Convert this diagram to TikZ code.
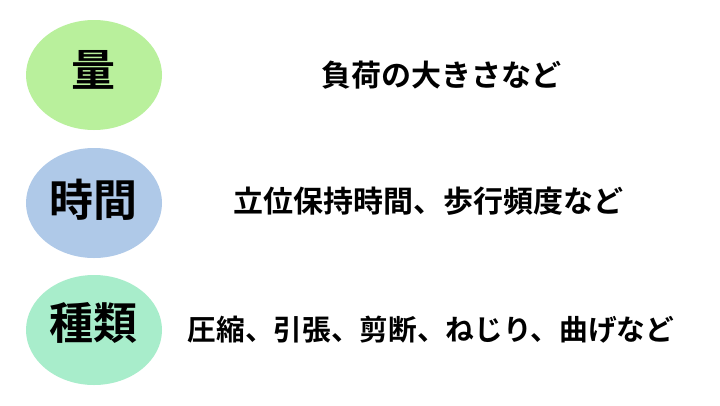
\documentclass[tikz,border=0pt]{standalone}
\usepackage{fontspec}
\newfontfamily\cjk{Noto Sans CJK JP}[BoldFont={* Bold}]
\definecolor{cgreen}{HTML}{B9F09C}
\definecolor{cblue}{HTML}{AFC9E8}
\definecolor{cmint}{HTML}{A8EDCB}
\begin{document}
\begin{tikzpicture}[x=1pt,y=-1pt,
  lab/.style={font=\cjk\bfseries\fontsize{44}{44}\selectfont, inner sep=0pt},
  desc/.style={font=\cjk\bfseries\fontsize{30}{30}\selectfont, inner sep=0pt}]
\useasboundingbox[fill=white] (0,0) rectangle (720,405);
\fill[cgreen] (94,75) ellipse [x radius=68, y radius=55];
\fill[cblue] (94,203) ellipse [x radius=68, y radius=55];
\fill[cmint] (94,330) ellipse [x radius=68, y radius=55];
\node[lab] (q) at (93,70) {量};
\node[lab] (t) at (93,200) {時間};
\node[lab] (k) at (93,323) {種類};
\node[desc] (d1) at (441,75) {負荷の大きさなど};
\node[desc] (d2) at (428,201) {立位保持時間、歩行頻度など};
\node[desc, font=\cjk\bfseries\fontsize{28.7}{28.7}\selectfont] (d3) at (431,330) {圧縮、引張、剪断、ねじり、曲げなど};
\end{tikzpicture}
\end{document}
